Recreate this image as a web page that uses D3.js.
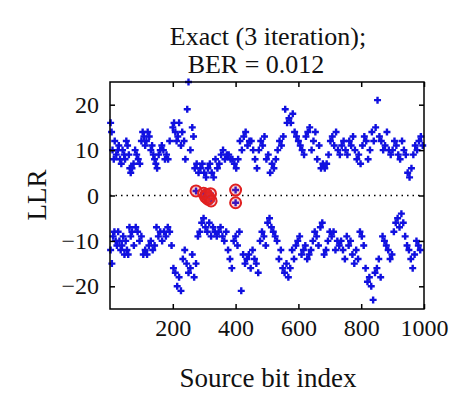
<!DOCTYPE html><html><head><meta charset="utf-8"><script src="https://cdn.jsdelivr.net/npm/d3@7"></script>
<style>body{margin:0;background:#fff}</style></head><body><svg id="c" width="474" height="415"></svg>
<script>
const xTicks=[200,400,600,800,1000];
const yTicks=[-20,-10,0,10,20];
const upperX=[2,5,8,12,15,20,25,28,32,36,40,45,48,52,56,60,63,66,70,75,80,85,90,95,100,104,108,112,116,120,125,130,134,138,142,146,150,155,160,165,170,175,180,185,190,200,204,208,212,216,220,226,230,236,240,246,250,256,262,266,270,276,282,288,294,300,306,312,318,324,330,336,342,348,354,360,366,372,378,384,390,396,402,408,414,420,426,432,438,444,450,456,462,468,474,480,486,492,498,504,510,516,522,528,534,540,546,552,558,564,570,576,582,588,594,600,606,612,618,624,630,636,642,648,654,660,666,672,678,684,690,696,702,708,714,720,726,732,738,744,750,756,762,768,774,780,786,792,798,804,810,816,822,828,834,840,846,852,858,864,870,876,882,888,894,900,906,912,918,924,930,936,942,948,954,960,966,972,978,984,990,996];
const upperY=[16,14,10,8,12,9,10,11,8,7,10,9,8,12,11,9,6,5,6,7,10,9,8,7,12,14,13,11,12,14,13,10,11,9,8,7,6,9,10,11,10,8,9,8,12,15,16,14,12,13,16,11,14,12,8,19,25,10,15,13,6,7,5,6,7,5,4,6,7,5,4,8,6,7,9,10,8,9,9,8,8,7,6,8,12,10,13,14,11,12,12,10,8,6,10,12,11,13,8,9,5,7,6,8,10,12,11,13,19,16,17,16,18,14,13,12,11,10,9,13,14,15,10,12,14,8,11,6,7,6,7,9,12,13,11,14,10,9,11,12,10,9,12,11,13,10,8,9,7,11,13,12,8,10,14,12,15,21,13,12,10,11,14,10,9,10,12,11,9,8,12,10,9,5,4,6,9,11,10,12,13,11,10,8];
const lowerX=[2,6,10,14,18,22,26,30,34,38,42,46,50,54,58,62,66,70,76,82,88,94,100,106,112,118,124,130,136,142,148,154,160,166,172,178,184,190,196,202,208,214,220,226,232,238,244,250,256,262,268,274,280,286,292,298,304,310,316,322,328,334,340,346,352,358,364,370,376,382,388,394,400,406,412,418,424,430,436,442,448,454,460,466,472,478,484,490,496,502,508,514,520,526,532,538,544,550,556,562,568,574,580,586,592,598,604,610,616,622,628,634,640,646,652,658,664,670,676,682,688,694,700,706,712,718,724,730,736,742,748,754,760,766,772,778,784,790,796,802,808,814,820,826,832,838,844,850,856,862,868,874,880,886,892,898,904,910,916,922,928,934,940,946,952,958,964,970,976,982,988,994];
const lowerY=[-12,-15,-9,-8,-10,-11,-8,-10,-12,-11,-9,-13,-10,-12,-13,-7,-9,-8,-11,-7,-8,-10,-9,-13,-12,-13,-11,-10,-12,-11,-7,-9,-8,-10,-8,-9,-7,-8,-11,-16,-17,-20,-18,-21,-14,-12,-15,-17,-16,-13,-18,-15,-9,-8,-6,-5,-7,-8,-6,-9,-7,-8,-9,-8,-7,-9,-10,-8,-12,-14,-16,-10,-9,-11,-8,-21,-13,-15,-14,-13,-16,-12,-14,-15,-17,-10,-8,-9,-11,-6,-5,-7,-8,-9,-10,-14,-12,-16,-17,-15,-18,-16,-12,-14,-11,-10,-9,-13,-12,-11,-14,-13,-12,-10,-8,-9,-11,-7,-6,-13,-12,-10,-8,-9,-8,-12,-10,-11,-10,-12,-14,-9,-11,-10,-13,-15,-12,-14,-8,-9,-11,-16,-19,-18,-20,-23,-17,-16,-14,-18,-9,-10,-11,-12,-14,-13,-8,-6,-5,-7,-4,-6,-9,-11,-12,-14,-16,-13,-10,-11,-12];
const errX=[274,298,304,308,312,316,320,322,400,400];
const errY=[1,0.5,-0.3,0.2,-0.8,-0.5,0.4,-1.2,1.2,-1.6];

const svg=d3.select("#c");
const x=d3.scaleLinear().domain([0,1000]).range([110,424]);
const y=d3.scaleLinear().domain([-25,25]).range([309,82]);
const font="Liberation Serif";
const pts=upperX.map((v,i)=>[v,upperY[i]]).concat(lowerX.map((v,i)=>[v,lowerY[i]]));
svg.append("line").attr("x1",x(0)).attr("x2",x(1000)).attr("y1",y(0)).attr("y2",y(0)).attr("stroke","#000").attr("stroke-width",1.5).attr("stroke-dasharray","1.5,4");
const plus=(g,d)=>{g.append("path").attr("d",`M${x(d[0])-3.5},${y(d[1])}h7M${x(d[0])},${y(d[1])-3.5}v7`).attr("stroke","#1010e0").attr("stroke-width",2.4);};
const gp=svg.append("g");
pts.forEach(d=>plus(gp,d));
const er=errX.map((v,i)=>[v,errY[i]]);
svg.append("g").selectAll("circle").data(er).join("circle").attr("cx",d=>x(d[0])).attr("cy",d=>y(d[1])).attr("r",5.5).attr("fill","#f03030").attr("fill-opacity",0.2).attr("stroke","#e02020").attr("stroke-width",2);
er.forEach(d=>plus(gp,d));
svg.append("rect").attr("x",110).attr("y",82).attr("width",314).attr("height",227).attr("fill","none").attr("stroke","#000").attr("stroke-width",1.5);
const xa=svg.append("g").attr("transform","translate(0,309)").call(d3.axisBottom(x).tickValues(xTicks).tickSize(-5).tickPadding(14).tickFormat(d3.format("d")));
const ya=svg.append("g").attr("transform","translate(110,0)").call(d3.axisLeft(y).tickValues(yTicks).tickSize(-5).tickPadding(11).tickFormat(d=>d<0?"\u2212"+(-d):d));
svg.append("g").attr("transform","translate(424,0)").call(d3.axisRight(y).tickValues(yTicks).tickSize(-5).tickFormat(""));
svg.append("g").attr("transform","translate(0,82)").call(d3.axisTop(x).tickValues(xTicks).tickSize(-5).tickFormat(""));
svg.selectAll(".domain").remove();
svg.selectAll(".tick line").attr("stroke-width",1.5);
[xa,ya].forEach(a=>a.selectAll("text").attr("font-family",font).attr("font-size",24).attr("fill","#111"));
xa.selectAll("text").attr("dy","0.55em");
const t=(s,xx,yy,sz,rot)=>svg.append("text").text(s).attr("x",xx).attr("y",yy).attr("text-anchor","middle").attr("font-family",font).attr("font-size",sz).attr("fill","#111").attr("transform",rot?`rotate(-90,${xx},${yy})`:null);
t("Exact (3 iteration);",268,45,26);
t("BER = 0.012",256,73,26);
t("LLR",46,195,27,true);
t("Source bit index",268,387,27);
</script></body></html>
